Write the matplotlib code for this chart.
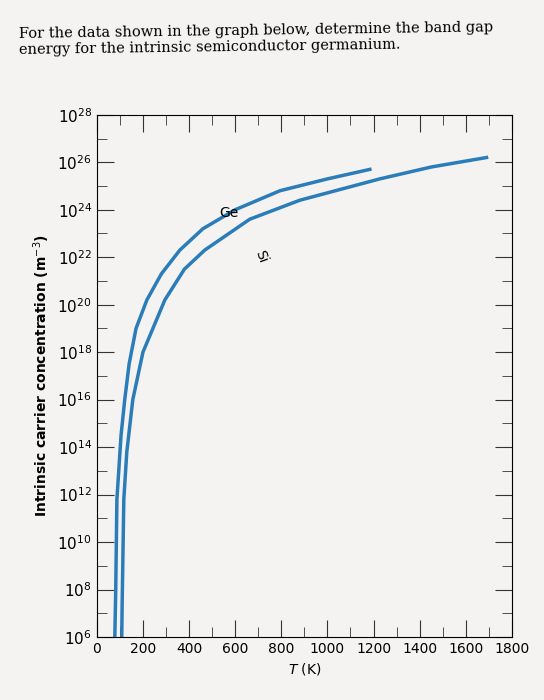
import matplotlib
matplotlib.use("Agg")
import matplotlib.pyplot as plt
import numpy as np

ge_T = [78, 82, 87, 95, 105, 121, 140, 170, 217, 280, 360, 460, 600, 794, 1000, 1184]
ge_log = [6.0, 8.0, 11.8, 13.0, 14.5, 16.0, 17.5, 19.0, 20.2, 21.3, 22.3, 23.2, 24.0, 24.8, 25.3, 25.7]
si_T = [108, 110, 117, 130, 156, 200, 295, 380, 468, 663, 880, 1227, 1450, 1690]
si_log = [6.0, 7.5, 11.8, 13.8, 16.0, 18.0, 20.2, 21.5, 22.3, 23.6, 24.4, 25.3, 25.8, 26.2]
x_ticks = [0, 200, 400, 600, 800, 1000, 1200, 1400, 1600, 1800]
y_exps = [6, 8, 10, 12, 14, 16, 18, 20, 22, 24, 26, 28]

fig = plt.figure(figsize=(5.44, 7.0), dpi=100)
fig.patch.set_facecolor("#f4f3f1")
fig.text(0.035, 0.945, "For the data shown in the graph below, determine the band gap\n"
         "energy for the intrinsic semiconductor germanium.",
         family="DejaVu Serif", fontsize=10.5, va="center", ha="left", rotation=0.8)
ax = fig.add_axes([0.178, 0.09, 0.763, 0.746])
ax.set_facecolor("#f4f3f1")
ax.plot(ge_T, 10.0 ** np.array(ge_log), color="#2a7db8", lw=2.5)
ax.plot(si_T, 10.0 ** np.array(si_log), color="#2a7db8", lw=2.5)
ax.set_yscale("log")
ax.set_xlim(0, 1800)
ax.set_ylim(1e6, 1e28)
ax.set_xticks(x_ticks)
ax.set_xticklabels([str(t) for t in x_ticks], fontsize=10)
ax.set_xticks(np.arange(100, 1800, 100), minor=True)
ax.set_yticks([10.0 ** e for e in y_exps])
ax.set_yticklabels([f"$10^{{{e}}}$" for e in y_exps], fontsize=11)
ax.set_yticks([10.0 ** e for e in range(7, 28, 2)], minor=True)
ax.yaxis.set_minor_formatter(matplotlib.ticker.NullFormatter())
ax.tick_params(which="both", direction="in", top=True, right=True, color="#333")
ax.tick_params(which="major", length=12)
ax.tick_params(which="minor", length=7)
ax.text(530, 10 ** 23.7, "Ge", fontsize=10)
ax.text(676, 10 ** 21.8, "Si", fontsize=10, rotation=-70)
ax.set_xlabel("$T$ (K)", fontsize=10)
ax.set_ylabel("Intrinsic carrier concentration (m$^{-3}$)", fontsize=10, fontweight="bold")
fig.savefig("out.png", dpi=100, facecolor=fig.get_facecolor())
